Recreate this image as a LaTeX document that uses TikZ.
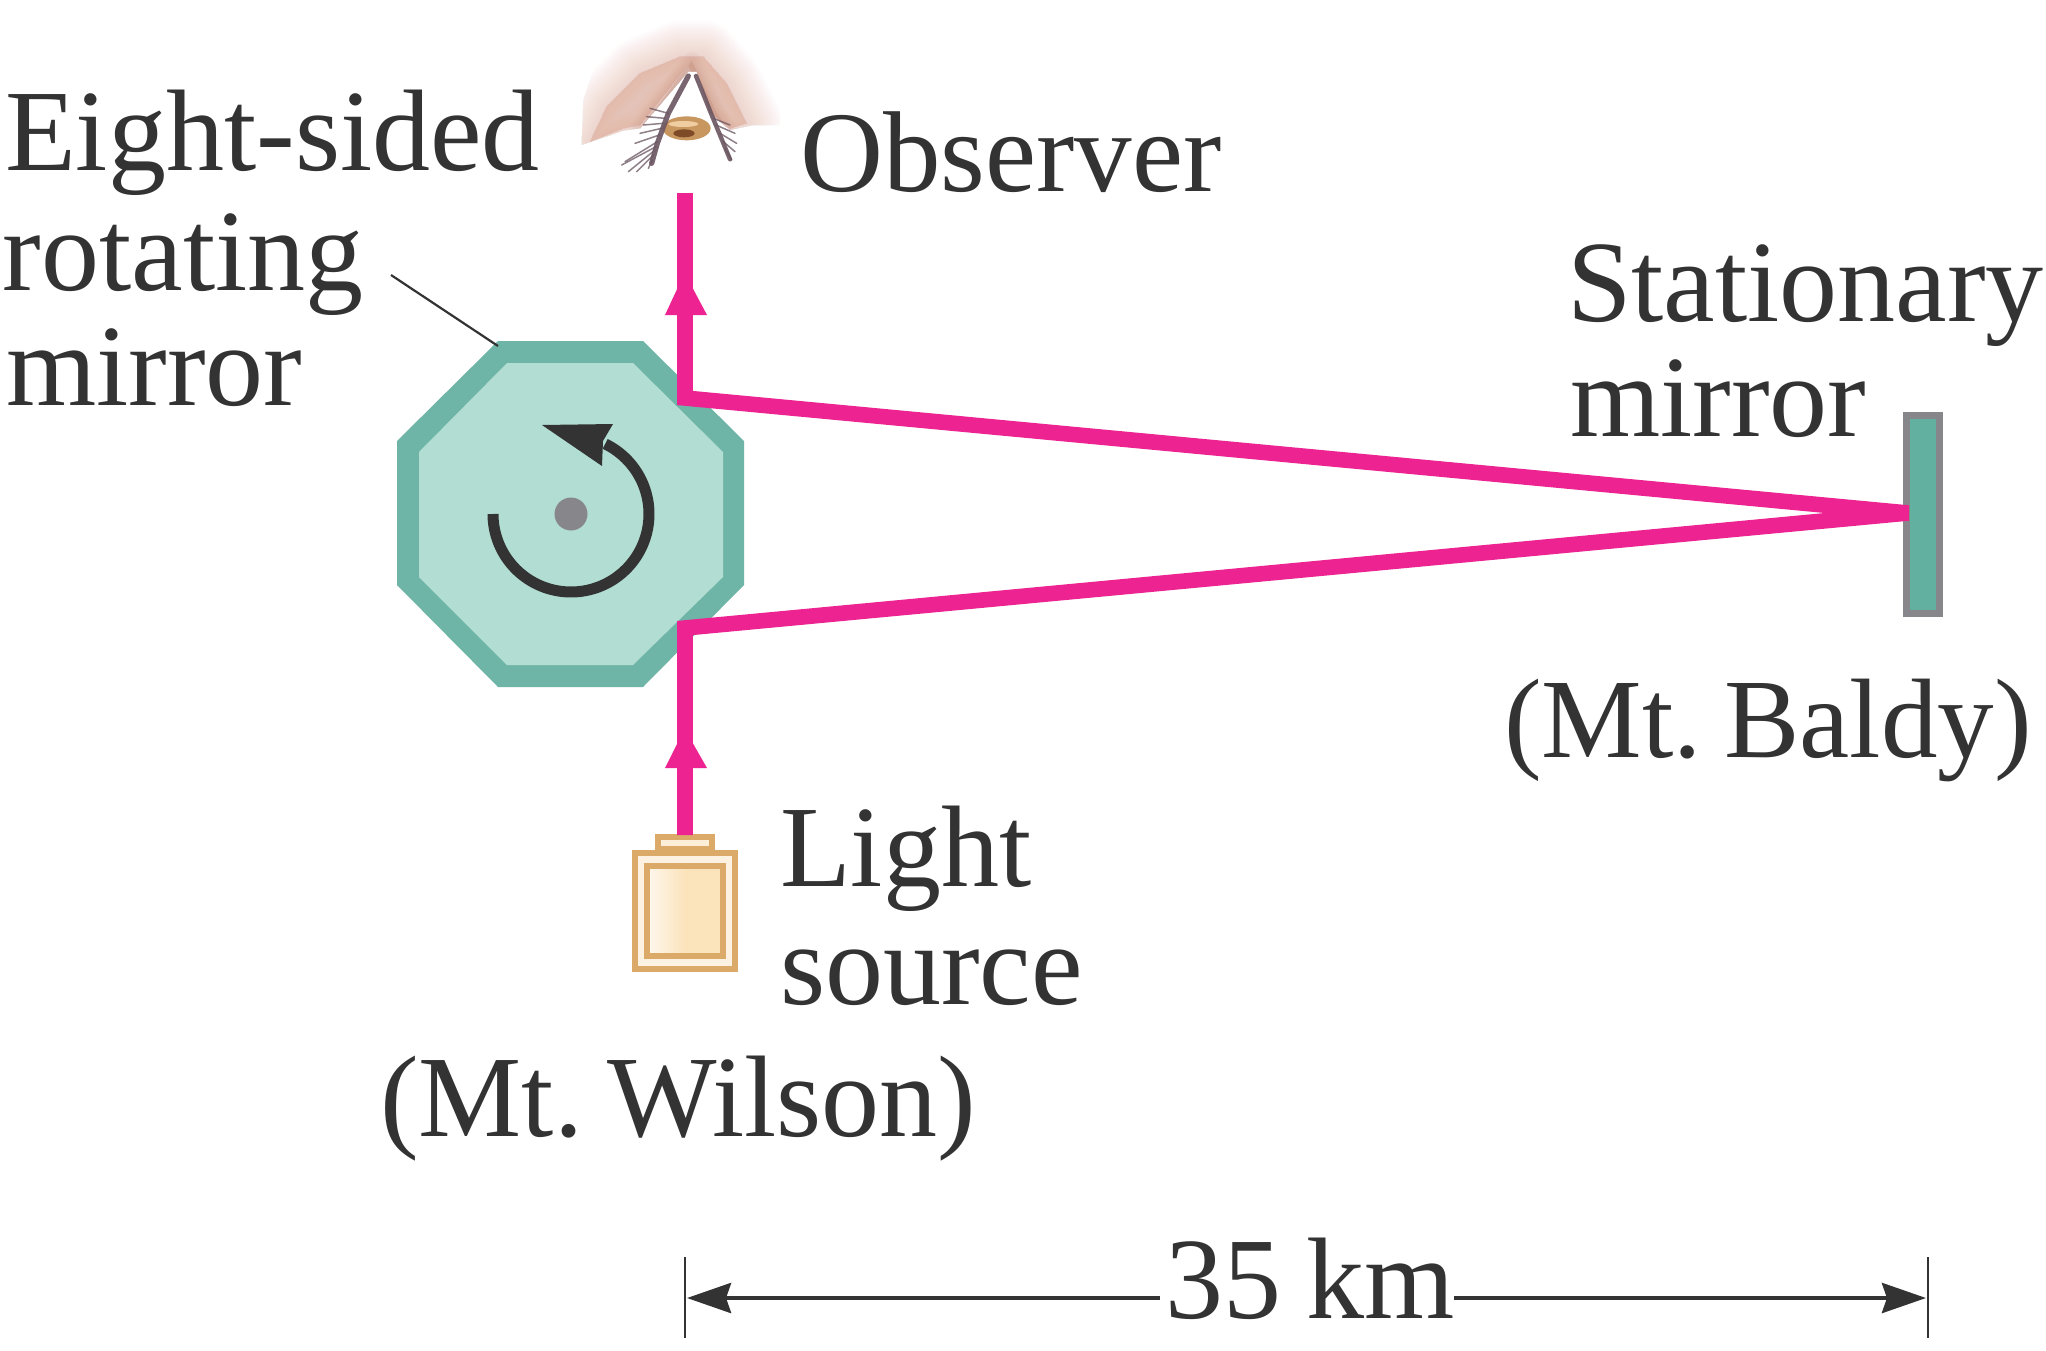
\documentclass[tikz,border=0pt]{standalone}
\usepackage{fontspec}
\setmainfont{Liberation Serif}
\usetikzlibrary{arrows.meta}
\definecolor{beam}{HTML}{EC2390}
\definecolor{tealdark}{HTML}{6FB5A7}
\definecolor{teallight}{HTML}{B2DDD2}
\definecolor{mirrorfill}{HTML}{62B0A0}
\definecolor{mirrorrim}{HTML}{87878B}
\definecolor{ink}{HTML}{333333}
\definecolor{lamp}{HTML}{DBA968}
\definecolor{lampfill}{HTML}{FBE3BC}
\definecolor{skin}{HTML}{E39C86}
\definecolor{lash}{HTML}{6A5560}
\tikzset{
  label text/.style={anchor=base west,inner sep=0pt,outer sep=0pt,text=ink,font=\fontsize{58}{60}\selectfont},
  beam line/.style={draw=beam,line width=7.8pt,line join=miter},
  dim line/.style={draw=ink,line width=2.2pt},
  dim tip/.style={-{Stealth[length=22pt,width=15pt,inset=2.5pt]}},
  tick line/.style={draw=ink,line width=0.8pt},
  lamp frame/.style={draw=lamp,line width=3pt},
  lash line/.style={draw=lash,line width=0.75pt,line cap=round,opacity=.75},
}
\begin{document}
\begin{tikzpicture}[x=0.5pt,y=-0.5pt]
\useasboundingbox[fill=white] (0,0) rectangle (2046,1350);

% eye
\begin{scope}[shift={(540,0)},x=0.16667pt,y=-0.16667pt]
  \begin{scope}
    \clip (125,435) -- (250,392) -- (300,385) -- (445,215) -- (470,215) -- (510,340) -- (570,390) -- (640,375) -- (720,375) -- (720,0) -- (230,0) -- (130,300) -- cycle;
    \foreach \d in {0,2,...,36}{
      \fill[skin,opacity=.022,draw=skin,line join=round,line width=\d pt]
        (150,425) -- (250,385) -- (300,375) -- (445,195) -- (510,335) -- (570,385) -- (620,370)
        -- (560,250) -- (490,170) -- (420,170) -- (300,220) -- (200,320) -- cycle;
    }
    \foreach \d in {0,2,...,10}{
      \fill[skin!85!black,opacity=.05,draw=skin!85!black,line join=round,line width=\d pt]
        (300,385) -- (345,330) -- (455,185) -- (530,340) -- (560,385) -- (510,345) -- (455,215) -- cycle;
    }
  \end{scope}
  \fill[white] (455,215) -- (385,355) -- (512,355) -- cycle;
  \fill[color={rgb,255:red,200;green,150;blue,95}] (440,385) ellipse [x radius=72,y radius=36];
  \fill[color={rgb,255:red,240;green,205;blue,160}] (430,372) ellipse [x radius=45,y radius=9];
  \fill[color={rgb,255:red,125;green,75;blue,40}] (432,400) ellipse [x radius=32,y radius=12];
  \draw[lash,line width=2.6pt,line cap=round,opacity=.9] (445,228) -- (385,340) -- (352,430) -- (335,490);
  \draw[lash,line width=2.2pt,line cap=round,opacity=.9] (468,228) -- (515,345) -- (570,478);
  \foreach \a/\b/\c/\d in {385/340/330/325, 375/355/320/350, 370/370/310/375, 365/385/300/400, 358/405/285/430, 352/425/255/485, 348/440/245/495, 345/450/265/515, 340/465/290/515, 337/480/325/505,
    520/355/570/375, 528/375/585/400, 540/400/590/430, 550/425/585/455, 555/445/575/480}{
    \draw[lash line] (\a,\b) -- (\c,\d);
  }
\end{scope}

% rotating mirror
\fill[tealdark] (498,341) -- (643,341) -- (744,441) -- (744,585) -- (643,687) -- (498,687) -- (397,585) -- (397,441) -- cycle;
\fill[teallight] (507,363) -- (633,363) -- (723,452) -- (723,577) -- (633,665) -- (507,665) -- (419,577) -- (419,452) -- cycle;
\node[circle,fill=mirrorrim,minimum size=16.5pt,inner sep=0pt] (axis) at (571,514) {};
\draw[draw=ink,line width=5.5pt] plot[smooth,domain=180:-64,samples=60] ({571+78*cos(\x)},{514+78*sin(\x)});
\fill[ink] (542,425) -- (613,424) -- (603,441) -- (602,466) -- cycle;

% stationary mirror
\node[draw=mirrorrim,fill=mirrorfill,line width=3.5pt,minimum width=16.5pt,minimum height=99pt,inner sep=0pt] (far) at (1923,514.5) {};

% light source
\node[lamp frame,fill=lampfill!60,minimum width=27pt,minimum height=6pt,inner sep=0pt] (cap) at (684.5,843) {};
\node[lamp frame,fill=lampfill!45,minimum width=50pt,minimum height=58pt,inner sep=0pt] (body) at (684.5,910.5) {};
\node[lamp frame,minimum width=38pt,minimum height=45pt,inner sep=0pt,left color=lampfill!25,right color=lampfill,middle color=lampfill] (core) at (684.5,910.5) {};

% beams
\coordinate (src) at (685,835);
\coordinate (lowc) at (685,628);
\coordinate (upc) at (685,398);
\coordinate (obs) at (685,193);
\coordinate (farpt) at (1908,513);
\draw[beam line] (src) -- (lowc) -- (farpt) -- (upc) -- (obs);
\fill[beam] (665,768) -- (707,768) -- (691,740) -- (685,732) -- (679,740) -- cycle;
\fill[beam] (665,315) -- (707,315) -- (691,285) -- (685,275) -- (679,285) -- cycle;

% leader
\coordinate (leadstart) at (391,275);
\coordinate (leadend) at (498,346);
\draw[ink,line width=1.1pt] (leadstart) -- (leadend);

% labels
\node[label text] (t1) at (5,170) {Eight-sided};
\node[label text] (t2) at (3,290) {rotating};
\node[label text] (t3) at (6,405) {mirror};
\node[label text,font=\fontsize{57.5}{60}\selectfont] (t4) at (800,191) {Observer};
\node[label text] (t5) at (1567,321) {Stationary};
\node[label text] (t6) at (1570,436) {mirror};
\node[label text,font=\fontsize{56.5}{60}\selectfont] (t7) at (1504,757) {(Mt.\kern.2em Baldy)};
\node[label text] (t8) at (780,886) {Light};
\node[label text] (t9) at (780,1004) {source};
\node[label text] (t10) at (380,1136) {(Mt.\kern.21em Wilson)};
\node[label text] (km) at (1165,1318) {35\kern.22em km};

% dimension
\coordinate (dl) at (687,1298);
\coordinate (dr) at (1926,1298);
\coordinate (kl) at (1160,1298);
\coordinate (kr) at (1454,1298);
\coordinate (tl1) at (685,1257);
\coordinate (tl2) at (685,1338);
\coordinate (tr1) at (1928,1257);
\coordinate (tr2) at (1928,1338);
\draw[tick line] (tl1) -- (tl2);
\draw[tick line] (tr1) -- (tr2);
\draw[dim line,dim tip] (kl) -- (dl);
\draw[dim line,dim tip] (kr) -- (dr);
\end{tikzpicture}
\end{document}
